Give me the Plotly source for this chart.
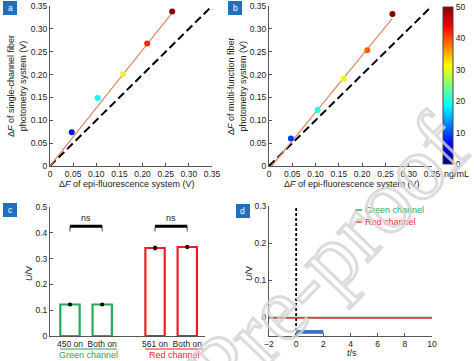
import plotly.graph_objects as go

W, H = 474, 361
def px(x): return x / W
def py(y): return 1 - y / H

# ---------------- data ----------------
# panel a
a_epi = [0.047, 0.103, 0.158, 0.210, 0.264]
a_single = [0.074, 0.149, 0.201, 0.268, 0.338]
a_conc = [7, 19, 30, 42, 50]
a_fit_x = [0.0, 0.263]
a_fit_y = [0.0, 0.334]
# panel b
b_epi = [0.047, 0.1045, 0.160, 0.211, 0.265]
b_multi = [0.060, 0.1225, 0.191, 0.253, 0.3325]
b_conc = [9, 21, 30, 39, 50]
b_fit_x = [0.006, 0.264]
b_fit_y = [0.0, 0.3216]
identity_x = [0.0, 0.35]
identity_y = [0.0, 0.35]
delta_ticks = [0, 0.05, 0.10, 0.15, 0.20, 0.25, 0.30, 0.35]
delta_ticktext = ['0', '0.05', '0.10', '0.15', '0.20', '0.25', '0.30', '0.35']
conc_ticks = [0, 10, 20, 30, 40, 50]
conc_unit = 'ng/mL'
# panel c
bar_labels = ['450 on', 'Both on', '561 on', 'Both on']
bar_values = [0.122, 0.122, 0.341, 0.345]
bar_errors = [0.003, 0.003, 0.006, 0.004]
channels = ['Green channel', 'Red channel']
sig_labels = ['ns', 'ns']
u_ticks = [0, 0.1, 0.2, 0.3, 0.4, 0.5]
u_ticktext = ['0', '0.1', '0.2', '0.3', '0.4', '0.5']
# panel d
t_span = [-2, 10]
green_signal = [0.0, 0.0]
red_signal = [-0.002, -0.002]
stim_on = [0, 2]
t_ticks = [-2, 0, 2, 4, 6, 8, 10]
d_u_ticks = [0, 0.1, 0.2, 0.3]
d_u_ticktext = ['0', '0.1', '0.2', '0.3']
watermark = 'Journal Pre-proof'

# ---------------- styles ----------------
FONT = 'Liberation Sans, Arial, sans-serif'
GREEN = '#27a85a'
RED = '#ee1c25'
LBL_BLUE = '#1f6fc0'
TS = 8.5   # tick font size
LS = 9     # label font size
jet = [[0, 'rgb(0,0,128)'], [0.125, 'rgb(0,0,255)'], [0.375, 'rgb(0,255,255)'],
       [0.625, 'rgb(255,255,0)'], [0.875, 'rgb(255,0,0)'], [1, 'rgb(128,0,0)']]

axis_style = dict(showline=True, linecolor='#555', linewidth=1, ticks='inside', ticklen=3,
                  tickcolor='#555', showgrid=False, zeroline=False, tickangle=0, automargin=False,
                  tickfont=dict(size=TS, color='#222', family=FONT))

fig = go.Figure()

# panel a
fig.add_trace(go.Scatter(x=identity_x, y=identity_y, mode='lines',
                         line=dict(color='black', width=2, dash='8px,4px'), xaxis='x', yaxis='y'))
fig.add_trace(go.Scatter(x=a_fit_x, y=a_fit_y, mode='lines',
                         line=dict(color='#d98a66', width=1.2), xaxis='x', yaxis='y'))
fig.add_trace(go.Scatter(x=a_epi, y=a_single, mode='markers', xaxis='x', yaxis='y',
                         marker=dict(size=6, color=a_conc, colorscale=jet, cmin=0, cmax=50)))
# panel b
fig.add_trace(go.Scatter(x=identity_x, y=identity_y, mode='lines',
                         line=dict(color='black', width=2, dash='8px,4px'), xaxis='x2', yaxis='y2'))
fig.add_trace(go.Scatter(x=b_fit_x, y=b_fit_y, mode='lines',
                         line=dict(color='#d98a66', width=1.2), xaxis='x2', yaxis='y2'))
fig.add_trace(go.Scatter(x=b_epi, y=b_multi, mode='markers', xaxis='x2', yaxis='y2',
                         marker=dict(size=6, color=b_conc, colorscale=jet, cmin=0, cmax=50,
                                     showscale=True,
                                     colorbar=dict(x=px(443), xanchor='left', y=py(85.5), yanchor='middle',
                                                   len=157 / H, lenmode='fraction', thickness=10,
                                                   xpad=0, ypad=0, outlinewidth=1, outlinecolor='#444',
                                                   tickvals=conc_ticks, ticks='',
                                                   tickfont=dict(size=TS, color='#222', family=FONT)))))

# panel c
pos = [1, 2, 3.64, 4.64]
bar_colors = [GREEN, GREEN, RED, RED]
fig.add_trace(go.Bar(x=pos, y=bar_values, width=0.6, xaxis='x3', yaxis='y3',
                     marker=dict(color='white', line=dict(color=bar_colors, width=2.2)),
                     error_y=dict(type='data', array=bar_errors, color='black', thickness=1.2, width=1.5)))
fig.add_trace(go.Scatter(x=pos, y=bar_values, mode='markers', xaxis='x3', yaxis='y3',
                         marker=dict(size=4, color='black')))

# panel d
fig.add_trace(go.Scatter(x=[0, 0], y=[-0.05, 0.3], mode='lines', xaxis='x4', yaxis='y4',
                         line=dict(color='black', width=1.8, dash='3px,2px')))
fig.add_trace(go.Scatter(x=t_span, y=green_signal, mode='lines', xaxis='x4', yaxis='y4',
                         line=dict(color=GREEN, width=1.4)))
fig.add_trace(go.Scatter(x=t_span, y=red_signal, mode='lines', xaxis='x4', yaxis='y4',
                         line=dict(color=RED, width=1.0)))

shapes = []
annotations = []
C = dict(xanchor='center', yanchor='middle', showarrow=False)

# stimulus bar in d
shapes.append(dict(type='rect', xref='x4', yref='y4', x0=stim_on[0], x1=stim_on[1], y0=-0.044, y1=-0.034,
                   fillcolor='#3a6cc8', line=dict(width=0)))

# significance brackets in c
for i, (p1, p2) in enumerate([(pos[0], pos[1]), (pos[2], pos[3])]):
    for p in (p1, p2):
        shapes.append(dict(type='line', xref='x3', yref='y3', x0=p, x1=p, y0=0.405, y1=0.425,
                           line=dict(color='#888', width=1.5)))
    shapes.append(dict(type='line', xref='x3', yref='y3', x0=p1, x1=p2, y0=0.425, y1=0.425,
                       line=dict(color='black', width=3)))
    annotations.append(dict(C, x=(p1 + p2) / 2, y=0.458, xref='x3', yref='y3', text=sig_labels[i],
                            font=dict(size=LS, color='#222', family=FONT)))

# channel group labels in c
for (x0, x1, col, name) in [(60, 117, GREEN, channels[0]), (145, 203, RED, channels[1])]:
    shapes.append(dict(type='line', xref='paper', yref='paper', x0=px(x0), x1=px(x1), y0=py(349), y1=py(349),
                       line=dict(color=col, width=1)))
    annotations.append(dict(C, x=px((x0 + x1) / 2), y=py(355), xref='paper', yref='paper', text=name,
                            font=dict(size=LS, color=col, family=FONT)))

# legend in d
for (yy, col, name) in [(210, GREEN, channels[0]), (222, RED, channels[1])]:
    shapes.append(dict(type='line', xref='paper', yref='paper', x0=px(355), x1=px(362), y0=py(yy), y1=py(yy),
                       line=dict(color=col, width=1.5)))
    annotations.append(dict(C, x=px(363), y=py(yy), xref='paper', yref='paper', text=name, xanchor='left',
                            font=dict(size=LS, color=col, family=FONT)))

# panel labels
for (x0, y0, lab) in [(3, 1, 'a'), (228, 1, 'b'), (3, 203, 'c'), (236, 204, 'd')]:
    shapes.append(dict(type='rect', xref='paper', yref='paper', x0=px(x0), x1=px(x0 + 14),
                       y0=py(y0 + 14), y1=py(y0), fillcolor=LBL_BLUE, line=dict(width=0)))
    annotations.append(dict(C, x=px(x0 + 7), y=py(y0 + 7), xref='paper', yref='paper', text=lab,
                            font=dict(size=8.5, color='white', family=FONT)))

# axis titles
tf = dict(size=LS, color='#222', family=FONT)
annotations += [
    dict(C, x=px(17), y=py(86), xref='paper', yref='paper', textangle=-90, font=tf,
         text='Δ<i>F</i> of single-channel fiber<br>photometry system (V)'),
    dict(C, x=px(237), y=py(86), xref='paper', yref='paper', textangle=-90, font=tf,
         text='Δ<i>F</i> of multi-function fiber<br>photometry system (V)'),
    dict(C, x=px(127), y=py(184), xref='paper', yref='paper', font=tf,
         text='Δ<i>F</i> of epi-fluorescence system (V)'),
    dict(C, x=px(352), y=py(184), xref='paper', yref='paper', font=tf,
         text='Δ<i>F</i> of epi-fluorescence system (V)'),
    dict(C, x=px(456), y=py(174), xref='paper', yref='paper', font=tf, text=conc_unit),
    dict(C, x=px(29), y=py(274), xref='paper', yref='paper', textangle=-90, font=tf,
         text='<i>U</i>/V'),
    dict(C, x=px(249), y=py(274), xref='paper', yref='paper', textangle=-90, font=tf,
         text='<i>U</i>/V'),
    dict(C, x=px(352), y=py(353), xref='paper', yref='paper', font=tf,
         text='<i>t</i>/s'),
]

# watermark (outlined via post script)
annotations.append(dict(C, x=px(226), y=py(364), xref='paper', yref='paper', textangle=-46,
                        text=watermark, font=dict(size=92, color='rgba(200,200,200,0.3)',
                                                  family='Liberation Serif, Times New Roman, serif')))

fig.update_layout(
    width=W, height=H, margin=dict(l=0, r=0, t=0, b=0, pad=0, autoexpand=False),
    paper_bgcolor='white', plot_bgcolor='white', showlegend=False,
    font=dict(family=FONT, size=LS, color='#222'),
    xaxis=dict(axis_style, domain=[px(50), px(212)], range=[0, 0.35], anchor='y',
               tickvals=delta_ticks, ticktext=delta_ticktext),
    yaxis=dict(axis_style, domain=[py(166), py(6)], range=[0, 0.35], anchor='x',
               tickvals=delta_ticks, ticktext=delta_ticktext),
    xaxis2=dict(axis_style, domain=[px(269), px(432)], range=[0, 0.35], anchor='y2',
                tickvals=delta_ticks, ticktext=delta_ticktext),
    yaxis2=dict(axis_style, domain=[py(166), py(6)], range=[0, 0.35], anchor='x2',
                tickvals=delta_ticks, ticktext=delta_ticktext),
    xaxis3=dict(axis_style, domain=[px(50), px(205)], range=[0.38, 5.19], anchor='y3',
                tickvals=pos, ticktext=bar_labels, ticks=''),
    yaxis3=dict(axis_style, domain=[py(336), py(207)], range=[0, 0.5], anchor='x3',
                tickvals=u_ticks, ticktext=u_ticktext),
    xaxis4=dict(axis_style, domain=[px(269), px(432)], range=[-2, 10], anchor='y4',
                tickvals=t_ticks),
    yaxis4=dict(axis_style, domain=[py(336), py(206)], range=[-0.05, 0.3], anchor='x4',
                tickvals=d_u_ticks, ticktext=d_u_ticktext),
    shapes=shapes, annotations=annotations,
)

post = (
    "document.body.style.margin='0';document.body.style.overflow='hidden';"
    "document.querySelectorAll('.annotation-text').forEach(function(t){"
    "if(t.textContent==='" + watermark + "'){t.style.fill='none';"
    "t.style.stroke='#d4d4d4';t.style.strokeWidth='3px';t.style.opacity='0.8';}});"
)
fig.write_html('out.html', config={'displayModeBar': False}, post_script=post)
